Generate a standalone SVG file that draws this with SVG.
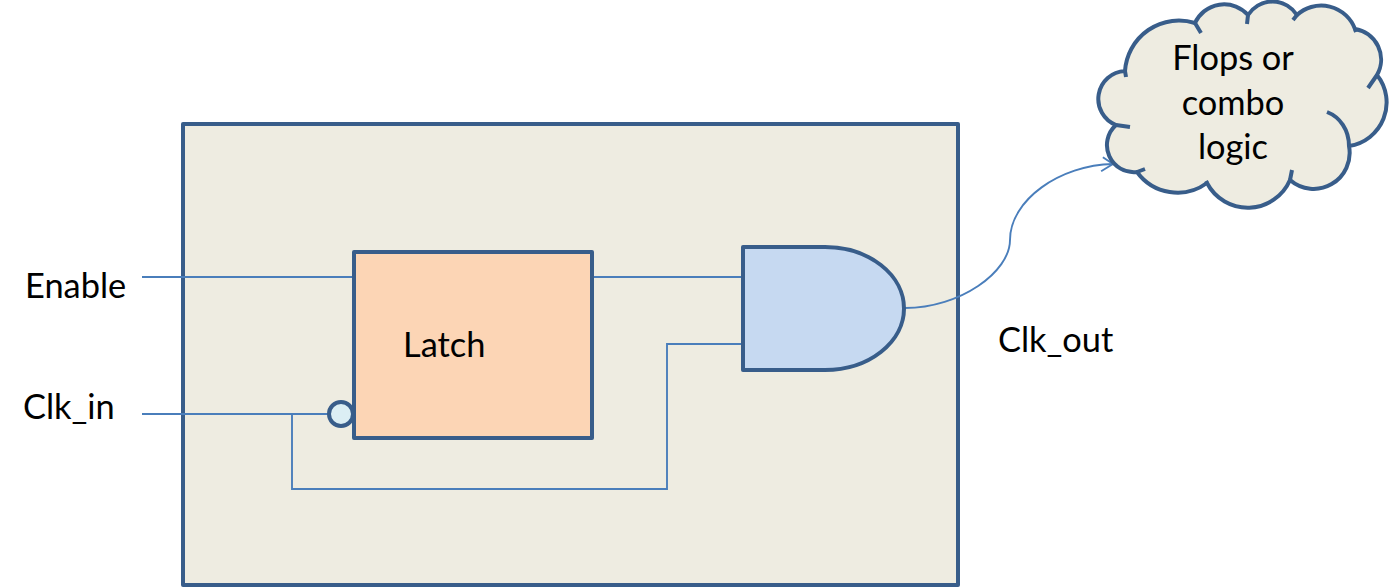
<svg xmlns="http://www.w3.org/2000/svg" width="1390" height="588" viewBox="0 0 1390 588">
<style>
.s{stroke:#385d8a;stroke-width:4;stroke-linejoin:round}
.w{fill:none;stroke:#4a7ebb;stroke-width:1.9}
text{font-family:"Lato","Liberation Sans",sans-serif;font-size:34.4px;fill:#000}
</style>
<defs><marker id="a" markerUnits="userSpaceOnUse" markerWidth="16" markerHeight="18" refX="13" refY="9" orient="auto"><path d="M3,2L13,9L1,16" fill="none" stroke="#4a7ebb" stroke-width="1.9"/></marker></defs>
<rect id="chip" class="s" x="183" y="124" width="775" height="461" fill="#eeece1"/>
<g id="connectors">
<path class="w" d="M142,277H354"/>
<path class="w" d="M142,414H329"/>
<path class="w" d="M292,414V489H667V344H743"/>
<path class="w" d="M592,277H743"/>
<path class="w" marker-end="url(#a)" d="M905,308C960,308 1010,272 1010,240C1010,200 1060,165 1113,164"/>
</g>
<g id="latch"><rect class="s" x="354" y="252" width="238" height="186" fill="#fcd5b5"/><text x="403" y="357">Latch</text></g>
<g id="bubble"><circle class="s" cx="341" cy="414" r="12" fill="#dbeef4"/></g>
<g id="and"><path class="s" fill="#c6d9f1" d="M743,247H825A79,61.5 0 0 1 825,370H743Z"/></g>
<g id="cloud">
<path class="s" fill="#eeece1" d="M1125,71A28,28 0 0 0 1116,125A27,27 0 0 0 1137,172A50,50 0 0 0 1207,183A46,46 0 0 0 1290,180A36,36 0 0 0 1349,146A44,44 0 0 0 1377,75A31,31 0 0 0 1355,29A36,36 0 0 0 1297,15A29,29 0 0 0 1248,15A32,32 0 0 0 1195,23A54,54 0 0 0 1125,71Z"/>
<path class="s" fill="none" d="M1125,71L1126,77M1116,125L1130,127M1137,172L1145,169M1207,183L1206,181M1290,180L1292,170M1349,146C1349,130 1340,117 1327,112M1377,75L1368,88M1355,29L1356,32M1297,15L1293,20M1248,15L1247,24M1195,23L1201,33"/>
<text x="1233" y="70" text-anchor="middle">Flops or</text>
<text x="1233" y="115" text-anchor="middle">combo</text>
<text x="1233" y="159" text-anchor="middle">logic</text>
</g>
<text x="25" y="298">Enable</text>
<text x="23" y="419">Clk_in</text>
<text x="998" y="352">Clk_out</text>
</svg>
